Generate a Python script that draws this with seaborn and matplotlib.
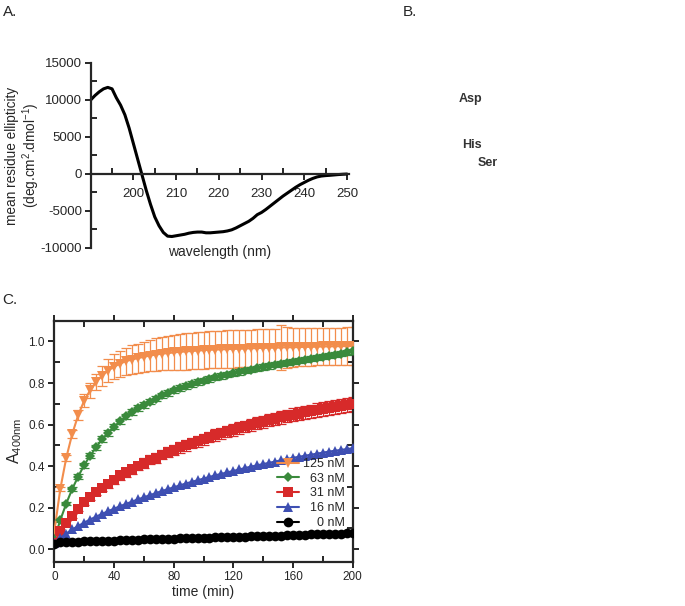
import numpy as np
import pandas as pd
import seaborn as sns
import matplotlib.pyplot as plt
from matplotlib.ticker import MultipleLocator, FixedLocator

sns.set_style('ticks')
plt.rcParams['font.family'] = ['Liberation Sans', 'DejaVu Sans']
plt.rcParams['axes.unicode_minus'] = False
plt.rcParams['mathtext.default'] = 'regular'

# Panel A: CD spectrum, one value per nm from 190 to 250
wavelength = list(range(190, 251))
ellipticity = [10000, 10600, 11100, 11500, 11700, 11500, 10300, 9300, 8000, 6200,
               4100, 2000, -100, -2200, -4100, -5800, -7000, -7900, -8400, -8450,
               -8350, -8250, -8150, -8000, -7900, -7850, -7850, -7950, -7950, -7900,
               -7850, -7800, -7700, -7550, -7300, -7000, -6700, -6400, -6000, -5500,
               -5200, -4800, -4350, -3900, -3450, -3000, -2600, -2200, -1800, -1450,
               -1150, -850, -600, -400, -280, -220, -180, -130, -80, -40, -10]

# Panel C: A400nm against time, one reading every 4 min
time_min = list(range(0, 201, 4))
conc_labels = ['125 nM', '63 nM', '31 nM', '16 nM', '0 nM']

a_125 = [0.085, 0.29, 0.44, 0.555, 0.645, 0.715, 0.765, 0.805, 0.835, 0.86,
         0.878, 0.893, 0.905, 0.913, 0.92, 0.926, 0.932, 0.937, 0.941, 0.944,
         0.947, 0.95, 0.952, 0.954, 0.956, 0.958, 0.96, 0.961, 0.962, 0.963,
         0.964, 0.965, 0.966, 0.967, 0.968, 0.969, 0.97, 0.97, 0.971, 0.972,
         0.972, 0.973, 0.974, 0.974, 0.975, 0.976, 0.976, 0.977, 0.977, 0.978, 0.978]
e_125 = [0.005, 0.01, 0.015, 0.02, 0.025, 0.03, 0.035, 0.04, 0.048, 0.055,
         0.06, 0.062, 0.065, 0.068, 0.07, 0.072, 0.075, 0.078, 0.08, 0.082,
         0.085, 0.086, 0.087, 0.088, 0.088, 0.089, 0.089, 0.09, 0.09, 0.09,
         0.09, 0.09, 0.09, 0.09, 0.09, 0.09, 0.09, 0.09, 0.11, 0.1,
         0.095, 0.09, 0.09, 0.09, 0.09, 0.09, 0.09, 0.09, 0.09, 0.09, 0.09]

a_63 = [0.05, 0.14, 0.22, 0.29, 0.35, 0.405, 0.45, 0.49, 0.53, 0.56,
        0.59, 0.615, 0.64, 0.66, 0.68, 0.695, 0.71, 0.725, 0.74, 0.752,
        0.765, 0.776, 0.786, 0.795, 0.804, 0.812, 0.82, 0.827, 0.834, 0.84,
        0.847, 0.853, 0.859, 0.865, 0.871, 0.877, 0.882, 0.888, 0.893, 0.898,
        0.903, 0.908, 0.913, 0.918, 0.922, 0.927, 0.932, 0.937, 0.942, 0.947, 0.952]
e_63 = [0.004, 0.007, 0.009, 0.01, 0.011, 0.012, 0.012, 0.013, 0.013, 0.013,
        0.013, 0.013, 0.013, 0.013, 0.013, 0.013, 0.013, 0.013, 0.013, 0.013,
        0.013, 0.013, 0.013, 0.013, 0.013, 0.013, 0.013, 0.013, 0.013, 0.013,
        0.013, 0.013, 0.013, 0.013, 0.013, 0.013, 0.013, 0.013, 0.013, 0.013,
        0.013, 0.013, 0.013, 0.013, 0.013, 0.013, 0.013, 0.013, 0.013, 0.013, 0.013]

a_31 = [0.03, 0.09, 0.125, 0.16, 0.195, 0.225, 0.25, 0.275, 0.295, 0.315,
        0.335, 0.355, 0.37, 0.385, 0.40, 0.415, 0.43, 0.44, 0.455, 0.467,
        0.478, 0.49, 0.50, 0.51, 0.52, 0.53, 0.54, 0.55, 0.558, 0.567,
        0.575, 0.583, 0.591, 0.599, 0.607, 0.614, 0.621, 0.628, 0.635, 0.641,
        0.647, 0.653, 0.659, 0.665, 0.67, 0.675, 0.68, 0.685, 0.69, 0.694, 0.698]
e_31 = [0.004, 0.008, 0.01, 0.012, 0.013, 0.014, 0.015, 0.016, 0.017, 0.018,
        0.019, 0.02, 0.02, 0.021, 0.021, 0.022, 0.022, 0.023, 0.023, 0.024,
        0.024, 0.025, 0.025, 0.025, 0.026, 0.026, 0.026, 0.027, 0.027, 0.027,
        0.028, 0.028, 0.028, 0.029, 0.029, 0.029, 0.03, 0.03, 0.03, 0.03,
        0.031, 0.031, 0.031, 0.031, 0.032, 0.032, 0.032, 0.032, 0.033, 0.033, 0.033]

a_16 = [0.03, 0.055, 0.075, 0.095, 0.112, 0.128, 0.143, 0.157, 0.17, 0.183,
        0.195, 0.207, 0.218, 0.229, 0.24, 0.25, 0.26, 0.27, 0.28, 0.289,
        0.298, 0.307, 0.316, 0.324, 0.332, 0.34, 0.348, 0.356, 0.363, 0.37,
        0.377, 0.384, 0.391, 0.398, 0.404, 0.41, 0.416, 0.422, 0.428, 0.434,
        0.44, 0.445, 0.45, 0.455, 0.46, 0.465, 0.47, 0.474, 0.478, 0.482, 0.486]

a_0 = [0.025, 0.033, 0.035, 0.036, 0.037, 0.038, 0.039, 0.040, 0.041, 0.041,
       0.042, 0.043, 0.044, 0.045, 0.046, 0.047, 0.047, 0.048, 0.049, 0.050,
       0.051, 0.052, 0.053, 0.053, 0.054, 0.055, 0.056, 0.057, 0.058, 0.059,
       0.059, 0.060, 0.061, 0.062, 0.063, 0.064, 0.065, 0.065, 0.066, 0.067,
       0.068, 0.069, 0.070, 0.071, 0.071, 0.072, 0.073, 0.074, 0.075, 0.076, 0.077]

series = [a_125, a_63, a_31, a_16, a_0]
errors = [e_125, e_63, e_31, None, None]
colors = ['#F28D4C', '#3A8A3C', '#D72A2A', '#3E4FB2', '#000000']
markers = ['v', 'D', 's', '^', 'o']
msizes = [7, 5.5, 6.5, 6.5, 7]

fig = plt.figure(figsize=(6.85, 6.06), dpi=100)

# ---------------- panel A
axA = fig.add_axes([0.1324, 0.5908, 0.3766, 0.3053])
sns.lineplot(x=wavelength, y=ellipticity, ax=axA, color='black', lw=2.2)
axA.set_xlim(190, 250.4)
axA.set_ylim(-10000, 15000)
axA.spines['right'].set_visible(False)
axA.spines['top'].set_visible(False)
axA.spines['bottom'].set_position(('data', 0))
for s in ['left', 'bottom']:
    axA.spines[s].set_linewidth(1.6)
axA.xaxis.set_major_locator(FixedLocator([200, 210, 220, 230, 240, 250]))
axA.xaxis.set_minor_locator(FixedLocator([195, 205, 215, 225, 235, 245]))
axA.yaxis.set_major_locator(MultipleLocator(5000))
axA.yaxis.set_minor_locator(MultipleLocator(2500))
axA.tick_params(which='major', direction='out', length=4, width=1.4, labelsize=9.5, pad=2)
axA.tick_params(axis='x', which='major', pad=6)
axA.tick_params(which='minor', direction='in', length=4, width=1.4)
axA.set_ylabel('mean residue ellipticity\n(deg.cm$^{2}$.dmol$^{-1}$)', fontsize=9.8,
               linespacing=1.1)
axA.yaxis.set_label_coords(-0.19, 0.5)
axA.text(0.5, -0.02, 'wavelength (nm)', transform=axA.transAxes, ha='center',
         va='center', fontsize=10)

# ---------------- panel B (structure rendering, labels only)
fig.text(470 / 685, 1 - 99 / 606, 'Asp', ha='center', va='center', fontsize=9,
         fontweight='bold', color='#333333')
fig.text(472 / 685, 1 - 145 / 606, 'His', ha='center', va='center', fontsize=9,
         fontweight='bold', color='#333333')
fig.text(488 / 685, 1 - 163 / 606, 'Ser', ha='center', va='center', fontsize=9,
         fontweight='bold', color='#333333')

# ---------------- panel C
axC = fig.add_axes([0.0793, 0.0731, 0.4356, 0.3977])
for vals, err, col in zip(series, errors, colors):
    if err is not None:
        axC.errorbar(time_min, vals, yerr=err, fmt='none', ecolor=col,
                     elinewidth=0.9, capsize=3.5, capthick=0.9, zorder=2)
for vals, lab, col, mk, ms in zip(series, conc_labels, colors, markers, msizes):
    sns.lineplot(x=time_min, y=vals, ax=axC, color=col, marker=mk, markersize=ms,
                 markeredgewidth=0, lw=1.5, label=lab, zorder=3)

axC.set_xlim(0, 200)
axC.set_ylim(-0.06, 1.1)
axC.xaxis.set_major_locator(MultipleLocator(40))
axC.xaxis.set_minor_locator(MultipleLocator(20))
axC.yaxis.set_major_locator(MultipleLocator(0.2))
axC.yaxis.set_minor_locator(MultipleLocator(0.1))
axC.yaxis.set_major_formatter(plt.FormatStrFormatter('%.1f'))
for s in axC.spines.values():
    s.set_linewidth(1.6)
axC.tick_params(which='both', top=True, right=True, width=1.4)
axC.tick_params(which='major', direction='out', length=4, labelsize=8.5, pad=3)
axC.tick_params(which='minor', direction='in', length=4)
axC.set_xlabel('time (min)', fontsize=10, labelpad=1)
axC.set_ylabel('A$_{400nm}$', fontsize=11.5, labelpad=3)

leg_labels = ['125 nM', '\u200763 nM', '\u200731 nM', '\u200716 nM', '\u2007\u20070 nM']
handles, _ = axC.get_legend_handles_labels()
axC.legend(handles, leg_labels, loc='lower right', bbox_to_anchor=(0.99, 0.115),
           frameon=False, fontsize=9, handlelength=1.8, labelspacing=0.22,
           borderaxespad=0, handletextpad=0.3)

# panel letters
fig.text(3 / 685, 1 - 5 / 606, 'A.', fontsize=11, va='top')
fig.text(403 / 685, 1 - 5 / 606, 'B.', fontsize=11, va='top')
fig.text(2 / 685, 1 - 293 / 606, 'C.', fontsize=11, va='top')

fig.savefig('out.png', dpi=100)
